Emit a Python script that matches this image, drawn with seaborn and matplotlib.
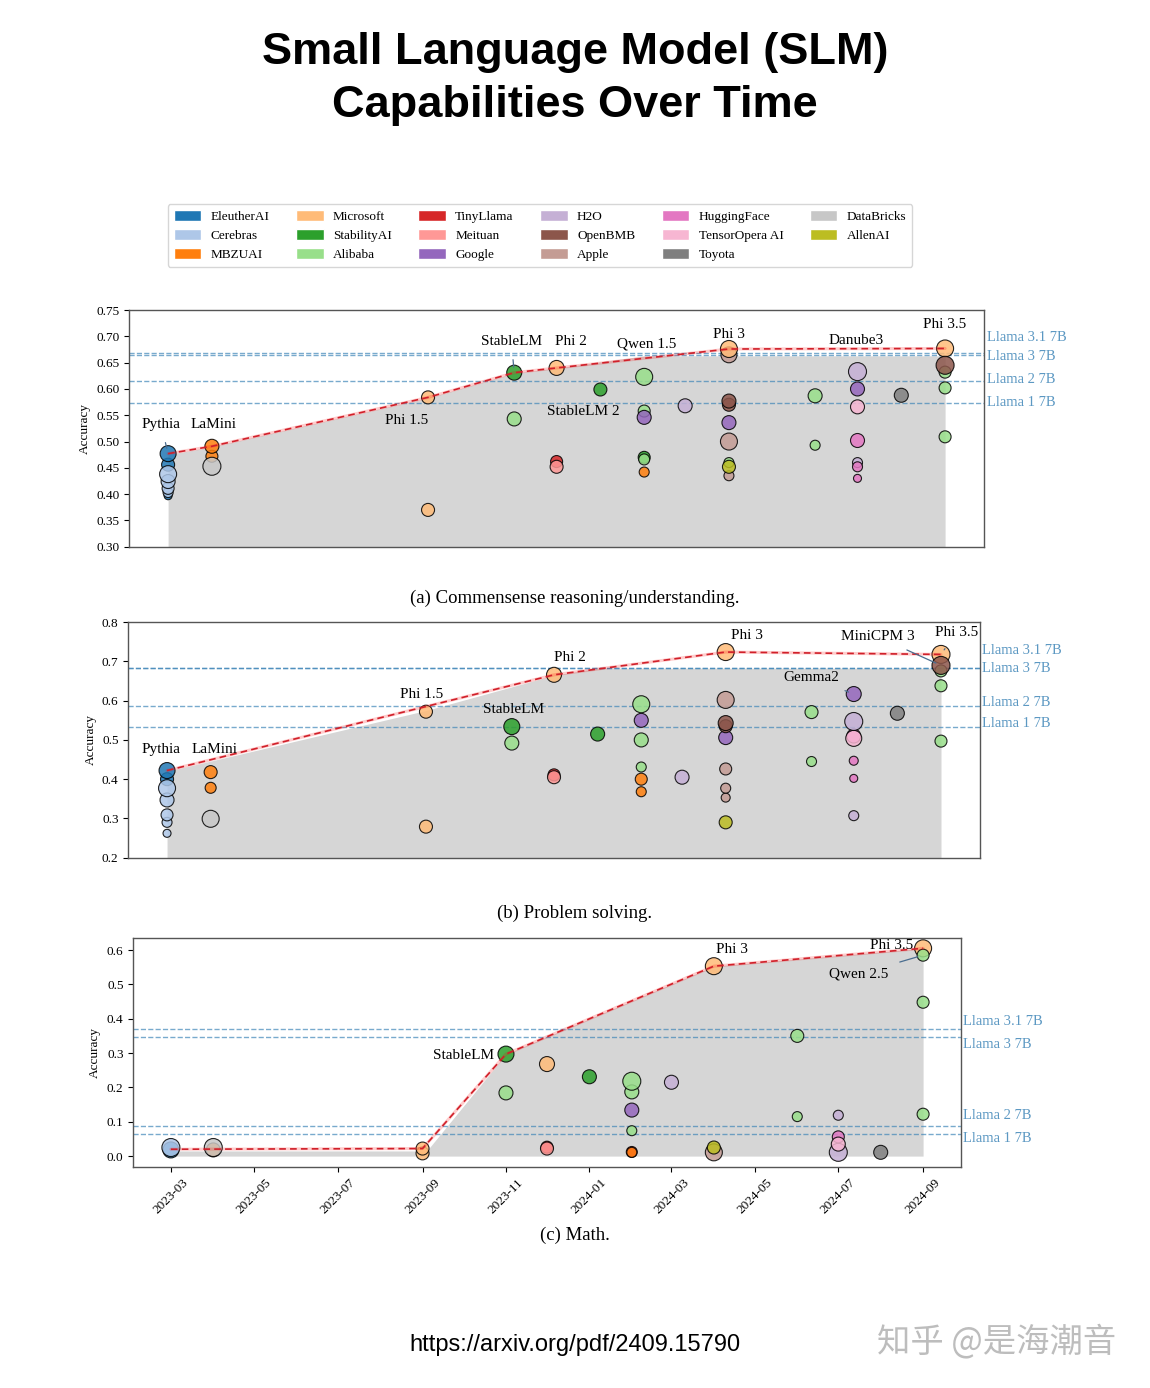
import matplotlib
matplotlib.use("Agg")
import matplotlib.pyplot as plt
import matplotlib.dates as mdates
from matplotlib.patches import Patch
import seaborn as sns
import pandas as pd
import numpy as np

# organisations, in legend order (tab20 colours in the same order)
orgs = ["EleutherAI", "Cerebras", "MBZUAI", "Microsoft", "StabilityAI", "Alibaba",
        "TinyLlama", "Meituan", "Google", "H2O", "OpenBMB", "Apple",
        "HuggingFace", "TensorOpera AI", "Toyota", "DataBricks", "AllenAI"]

# (release month, organisation, accuracy, marker diameter)
a_points = [
    ("2023-03", "EleutherAI", 0.397, 8), ("2023-03", "EleutherAI", 0.456, 13),
    ("2023-03", "Cerebras", 0.403, 10), ("2023-03", "Cerebras", 0.411, 12),
    ("2023-03", "Cerebras", 0.424, 14), ("2023-03", "Cerebras", 0.438, 17),
    ("2023-03", "EleutherAI", 0.477, 16),
    ("2023-04", "MBZUAI", 0.472, 12), ("2023-04", "DataBricks", 0.453, 18),
    ("2023-04", "MBZUAI", 0.491, 14),
    ("2023-09", "Microsoft", 0.370, 13), ("2023-09", "Microsoft", 0.584, 13),
    ("2023-11", "Alibaba", 0.543, 14), ("2023-11", "StabilityAI", 0.631, 15),
    ("2023-12", "TinyLlama", 0.462, 12), ("2023-12", "Meituan", 0.452, 13),
    ("2023-12", "Microsoft", 0.640, 15),
    ("2024-01", "StabilityAI", 0.599, 13),
    ("2024-02", "MBZUAI", 0.442, 10), ("2024-02", "StabilityAI", 0.470, 12),
    ("2024-02", "Alibaba", 0.466, 11), ("2024-02", "Alibaba", 0.558, 12),
    ("2024-02", "Google", 0.546, 14), ("2024-02", "Alibaba", 0.623, 17),
    ("2024-03", "H2O", 0.568, 14),
    ("2024-04", "Apple", 0.435, 10), ("2024-04", "Alibaba", 0.460, 10),
    ("2024-04", "AllenAI", 0.452, 13), ("2024-04", "Apple", 0.500, 17),
    ("2024-04", "Google", 0.536, 14), ("2024-04", "OpenBMB", 0.570, 13),
    ("2024-04", "OpenBMB", 0.577, 14), ("2024-04", "Apple", 0.665, 16),
    ("2024-04", "Microsoft", 0.676, 17),
    ("2024-06", "Alibaba", 0.493, 10), ("2024-06", "Alibaba", 0.587, 14),
    ("2024-07", "HuggingFace", 0.430, 8), ("2024-07", "H2O", 0.460, 10),
    ("2024-07", "HuggingFace", 0.452, 10), ("2024-07", "HuggingFace", 0.502, 14),
    ("2024-07", "TensorOpera AI", 0.566, 14), ("2024-07", "Google", 0.600, 14),
    ("2024-07", "H2O", 0.633, 18),
    ("2024-08", "Toyota", 0.588, 14),
    ("2024-09", "Alibaba", 0.509, 12), ("2024-09", "Alibaba", 0.602, 12),
    ("2024-09", "Microsoft", 0.677, 17), ("2024-09", "Alibaba", 0.632, 12),
    ("2024-09", "OpenBMB", 0.645, 18),
]

b_points = [
    ("2023-03", "Cerebras", 0.262, 8), ("2023-03", "Cerebras", 0.290, 10),
    ("2023-03", "Cerebras", 0.309, 12), ("2023-03", "Cerebras", 0.347, 14),
    ("2023-03", "EleutherAI", 0.400, 13), ("2023-03", "Cerebras", 0.377, 17),
    ("2023-03", "EleutherAI", 0.422, 16),
    ("2023-04", "DataBricks", 0.299, 17), ("2023-04", "MBZUAI", 0.378, 11),
    ("2023-04", "MBZUAI", 0.418, 13),
    ("2023-09", "Microsoft", 0.279, 13), ("2023-09", "Microsoft", 0.572, 13),
    ("2023-11", "Alibaba", 0.492, 14), ("2023-11", "StabilityAI", 0.534, 16),
    ("2023-12", "TinyLlama", 0.411, 12), ("2023-12", "Meituan", 0.405, 13),
    ("2023-12", "Microsoft", 0.666, 15),
    ("2024-01", "StabilityAI", 0.515, 14),
    ("2024-02", "MBZUAI", 0.368, 10), ("2024-02", "MBZUAI", 0.400, 12),
    ("2024-02", "Alibaba", 0.431, 10), ("2024-02", "Alibaba", 0.500, 14),
    ("2024-02", "Google", 0.550, 14), ("2024-02", "Alibaba", 0.591, 17),
    ("2024-03", "H2O", 0.405, 14),
    ("2024-04", "AllenAI", 0.290, 13), ("2024-04", "Apple", 0.353, 9),
    ("2024-04", "Apple", 0.377, 10), ("2024-04", "Apple", 0.426, 12),
    ("2024-04", "Google", 0.506, 14), ("2024-04", "OpenBMB", 0.535, 13),
    ("2024-04", "OpenBMB", 0.543, 15), ("2024-04", "Apple", 0.602, 17),
    ("2024-04", "Microsoft", 0.724, 17),
    ("2024-06", "Alibaba", 0.445, 10), ("2024-06", "Alibaba", 0.571, 13),
    ("2024-07", "H2O", 0.307, 10), ("2024-07", "HuggingFace", 0.402, 8),
    ("2024-07", "HuggingFace", 0.447, 9), ("2024-07", "HuggingFace", 0.510, 14),
    ("2024-07", "TensorOpera AI", 0.504, 16), ("2024-07", "H2O", 0.547, 18),
    ("2024-07", "Google", 0.617, 15),
    ("2024-08", "Toyota", 0.568, 14),
    ("2024-09", "Alibaba", 0.497, 12), ("2024-09", "Alibaba", 0.638, 12),
    ("2024-09", "Microsoft", 0.718, 18), ("2024-09", "Alibaba", 0.676, 12),
    ("2024-09", "OpenBMB", 0.690, 18),
]

c_points = [
    ("2023-03", "EleutherAI", 0.018, 16), ("2023-03", "Cerebras", 0.025, 18),
    ("2023-04", "MBZUAI", 0.018, 14), ("2023-04", "DataBricks", 0.025, 18),
    ("2023-09", "Microsoft", 0.008, 13), ("2023-09", "Microsoft", 0.022, 13),
    ("2023-11", "Alibaba", 0.184, 14), ("2023-11", "StabilityAI", 0.297, 16),
    ("2023-12", "TinyLlama", 0.026, 12), ("2023-12", "Meituan", 0.022, 13),
    ("2023-12", "Microsoft", 0.268, 15),
    ("2024-01", "StabilityAI", 0.231, 14),
    ("2024-02", "TinyLlama", 0.012, 11), ("2024-02", "MBZUAI", 0.011, 10),
    ("2024-02", "Alibaba", 0.074, 10), ("2024-02", "Google", 0.134, 14),
    ("2024-02", "Alibaba", 0.187, 14), ("2024-02", "Alibaba", 0.218, 18),
    ("2024-03", "H2O", 0.215, 14),
    ("2024-04", "Apple", 0.011, 17), ("2024-04", "AllenAI", 0.025, 13),
    ("2024-04", "Microsoft", 0.553, 17),
    ("2024-06", "Alibaba", 0.115, 10), ("2024-06", "Alibaba", 0.350, 13),
    ("2024-07", "H2O", 0.011, 18), ("2024-07", "HuggingFace", 0.056, 12),
    ("2024-07", "TensorOpera AI", 0.035, 14), ("2024-07", "H2O", 0.119, 10),
    ("2024-08", "Toyota", 0.011, 14),
    ("2024-09", "Alibaba", 0.122, 12), ("2024-09", "Alibaba", 0.448, 12),
    ("2024-09", "Microsoft", 0.605, 17), ("2024-09", "Alibaba", 0.585, 12),
]

# red dashed frontier
a_front_dates = ["2023-03", "2023-04", "2023-09", "2023-11", "2023-12", "2024-04", "2024-09"]
a_front_acc = [0.477, 0.491, 0.584, 0.631, 0.640, 0.676, 0.677]
b_front_dates = ["2023-03", "2023-12", "2024-04", "2024-09"]
b_front_acc = [0.422, 0.666, 0.724, 0.718]
c_front_dates = ["2023-03", "2023-09", "2023-11", "2024-04", "2024-09"]
c_front_acc = [0.020, 0.022, 0.297, 0.553, 0.605]

# grey shaded area
a_fill_dates = ["2023-03", "2023-04", "2023-09", "2023-11", "2023-12", "2024-02", "2024-09"]
a_fill_acc = [0.475, 0.490, 0.583, 0.630, 0.640, 0.663, 0.663]
b_fill_dates = ["2023-03", "2023-09", "2023-12", "2024-01", "2024-09"]
b_fill_acc = [0.420, 0.575, 0.665, 0.683, 0.683]
c_fill_dates = ["2023-03", "2023-09", "2023-09", "2023-11", "2024-04", "2024-09"]
c_fill_acc = [0.015, 0.015, 0.0, 0.297, 0.553, 0.605]

# Llama 7B reference lines
llama_names = ["Llama 3.1 7B", "Llama 3 7B", "Llama 2 7B", "Llama 1 7B"]
a_llama = [0.669, 0.664, 0.616, 0.573]
b_llama = [0.684, 0.683, 0.587, 0.534]
c_llama = [0.371, 0.346, 0.088, 0.063]

# model names written on the panels: (text, x date, y, target date, target acc or None)
a_notes = [("Pythia", "2023-02-24", 0.532, "2023-03-01", 0.477),
           ("LaMini", "2023-04-02", 0.532, None, None),
           ("Phi 1.5", "2023-08-17", 0.540, None, None),
           ("StableLM", "2023-10-30", 0.690, "2023-11-01", 0.631),
           ("Phi 2", "2023-12-11", 0.690, None, None),
           ("Qwen 1.5", "2024-02-03", 0.686, None, None),
           ("StableLM 2", "2023-12-20", 0.558, None, None),
           ("Phi 3", "2024-04-01", 0.703, None, None),
           ("Danube3", "2024-06-30", 0.692, None, None),
           ("Phi 3.5", "2024-09-01", 0.723, None, None)]
b_notes = [("Pythia", "2023-02-25", 0.475, None, None),
           ("LaMini", "2023-04-04", 0.475, None, None),
           ("Phi 1.5", "2023-08-29", 0.615, None, None),
           ("StableLM", "2023-11-02", 0.577, None, None),
           ("Phi 2", "2023-12-12", 0.709, None, None),
           ("Phi 3", "2024-04-16", 0.765, None, None),
           ("MiniCPM 3", "2024-07-18", 0.763, "2024-09-01", 0.690),
           ("Phi 3.5", "2024-09-12", 0.775, "2024-09-01", 0.718),
           ("Gemma2", "2024-06-01", 0.658, "2024-07-01", 0.617)]
c_notes = [("StableLM", "2023-10-01", 0.294, None, None),
           ("Phi 3", "2024-04-14", 0.603, None, None),
           ("Phi 3.5", "2024-08-09", 0.612, None, None),
           ("Qwen 2.5", "2024-07-16", 0.530, "2024-09-01", 0.585)]

captions = ["(a) Commensense reasoning/understanding.", "(b) Problem solving.", "(c) Math."]

sns.set_theme(style="ticks")
plt.rcParams["font.family"] = ["Liberation Serif", "DejaVu Serif"]
plt.rcParams["axes.edgecolor"] = "#555555"
plt.rcParams["text.color"] = "black"
plt.rcParams["axes.labelcolor"] = "black"
plt.rcParams["xtick.color"] = "black"
plt.rcParams["ytick.color"] = "black"

palette = dict(zip(orgs, sns.color_palette("tab20", len(orgs))))
llama_col = "#3f86b8"

fig = plt.figure(figsize=(11.5, 13.88), dpi=100)

panels = [
    dict(points=a_points, fd=a_front_dates, fa=a_front_acc, gd=a_fill_dates, ga=a_fill_acc,
         llama=a_llama, label_y=[0.698, 0.662, 0.618, 0.574], notes=a_notes,
         rect=[0.1124, 0.6061, 0.7432, 0.1705], ylim=(0.30, 0.75),
         yticks=np.arange(0.30, 0.751, 0.05), fmt="%.2f", cap_y=598),
    dict(points=b_points, fd=b_front_dates, fa=b_front_acc, gd=b_fill_dates, ga=b_fill_acc,
         llama=b_llama, label_y=[0.729, 0.681, 0.595, 0.541], notes=b_notes,
         rect=[0.1116, 0.3821, 0.7403, 0.1696], ylim=(0.2, 0.8),
         yticks=np.arange(0.2, 0.81, 0.1), fmt="%.1f", cap_y=913),
    dict(points=c_points, fd=c_front_dates, fa=c_front_acc, gd=c_fill_dates, ga=c_fill_acc,
         llama=c_llama, label_y=[0.393, 0.326, 0.119, 0.050], notes=c_notes,
         rect=[0.1159, 0.1594, 0.7195, 0.1648], ylim=(-0.031, 0.635),
         yticks=np.arange(0.0, 0.61, 0.1), fmt="%.1f", cap_y=1235),
]

x0 = pd.Timestamp("2023-03-01")
x1 = pd.Timestamp("2024-09-01")
pad = (x1 - x0) * 0.05

for i, p in enumerate(panels):
    ax = fig.add_axes(p["rect"])
    df = pd.DataFrame(p["points"], columns=["month", "org", "acc", "dot"])
    df["date"] = pd.to_datetime(df["month"] + "-01")

    ax.fill_between(pd.to_datetime([d + "-01" for d in p["gd"]]), 0, p["ga"],
                    color="#d6d6d6", lw=0, zorder=0)
    for v in p["llama"]:
        ax.axhline(v, color=llama_col, ls="--", lw=1.0, alpha=0.7, zorder=1)
    for name, v in zip(llama_names, p["label_y"]):
        ax.text(1.003, v, name, transform=ax.get_yaxis_transform(), color=llama_col,
                alpha=0.85, fontsize=10.5, va="center", ha="left")

    sns.scatterplot(data=df, x="date", y="acc", hue="org", palette=palette,
                    hue_order=orgs, s=(df["dot"].to_numpy() * 0.72) ** 2,
                    edgecolor="black", linewidth=0.8, alpha=0.85, legend=False,
                    ax=ax, zorder=3)

    fx = pd.to_datetime([d + "-01" for d in p["fd"]])
    ax.plot(fx, p["fa"], color="red", lw=2.2, alpha=0.2, zorder=4)
    ax.plot(fx, p["fa"], color="#d0202a", lw=1.2, ls=(0, (4, 2.5)), zorder=4)

    for txt, xd, yv, td, ta in p["notes"]:
        if td is None:
            ax.text(pd.Timestamp(xd), yv, txt, fontsize=11, ha="center", va="center", zorder=6)
        else:
            ax.annotate(txt, xy=(pd.Timestamp(td), ta), xytext=(pd.Timestamp(xd), yv),
                        fontsize=11, ha="center", va="center", zorder=6,
                        arrowprops=dict(arrowstyle="-", color="#4a6d8f", lw=0.9,
                                        shrinkA=6, shrinkB=4))

    ax.set_xlim(x0 - pad, x1 + pad)
    ax.set_ylim(*p["ylim"])
    ax.set_yticks(p["yticks"])
    ax.yaxis.set_major_formatter(matplotlib.ticker.FormatStrFormatter(p["fmt"]))
    ax.tick_params(axis="y", labelsize=9.5, length=3.5, width=0.8)
    ax.set_ylabel("Accuracy", fontsize=9.5)
    ax.set_xlabel("")
    if i < 2:
        ax.set_xticks([])
    else:
        ax.xaxis.set_major_locator(mdates.MonthLocator(bymonth=[1, 3, 5, 7, 9, 11]))
        ax.xaxis.set_major_formatter(mdates.DateFormatter("%Y-%m"))
        ax.tick_params(axis="x", labelsize=9.5, length=3.5, width=0.8)
        for lab in ax.get_xticklabels():
            lab.set_rotation(45)
    for s in ax.spines.values():
        s.set_visible(True)
        s.set_linewidth(1.0)

    fig.text(0.5, 1 - p["cap_y"] / 1388, captions[i], fontsize=13.5, ha="center", va="center")

handles = [Patch(facecolor=palette[o], label=o) for o in orgs]
fig.legend(handles=handles, ncol=6, loc="upper center", bbox_to_anchor=(0.4696, 0.853),
           fontsize=9.5, frameon=True, edgecolor="#cccccc", fancybox=True,
           handlelength=2.1, handleheight=0.9, handletextpad=0.7, columnspacing=2.0,
           labelspacing=0.45, borderpad=0.45, borderaxespad=0)

fig.text(0.5, 1 - 79 / 1388, "Small Language Model (SLM)\nCapabilities Over Time",
         fontsize=32.5, fontweight="bold", ha="center", va="center", color="black",
         family=["Liberation Sans", "DejaVu Sans"], linespacing=1.4)
fig.text(0.5, 1 - 1345 / 1388, "https://arxiv.org/pdf/2409.15790", fontsize=17,
         ha="center", va="center", color="black", family=["Liberation Sans", "DejaVu Sans"])
fig.text(0.867, 1 - 1342 / 1388, "知乎 @是海潮音", fontsize=24, color="#bdbdbd",
         ha="center", va="center", family=["Noto Sans CJK SC", "DejaVu Sans"])

fig.savefig("out.png", dpi=100, facecolor="white")
